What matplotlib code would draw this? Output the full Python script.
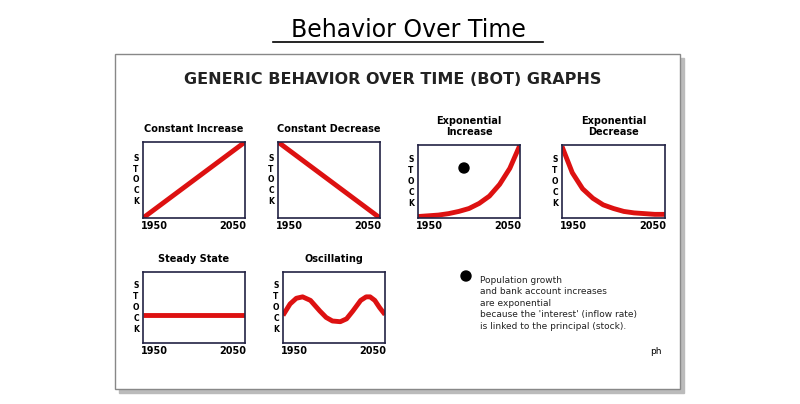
import matplotlib
matplotlib.use("Agg")
import matplotlib.pyplot as plt
from matplotlib.patches import Rectangle, Circle

W, H = 800, 404
years = [1935, 1948, 1961, 1974, 1987, 2000, 2013, 2026, 2039, 2052, 2065]
const_inc = [0.0, 0.1, 0.2, 0.3, 0.4, 0.5, 0.6, 0.7, 0.8, 0.9, 1.0]
const_dec = [1.0, 0.9, 0.8, 0.7, 0.6, 0.5, 0.4, 0.3, 0.2, 0.1, 0.0]
exp_inc = [0.02, 0.03, 0.04, 0.06, 0.09, 0.13, 0.2, 0.3, 0.46, 0.68, 1.0]
exp_dec = [0.98, 0.62, 0.4, 0.27, 0.18, 0.13, 0.09, 0.07, 0.06, 0.05, 0.05]
steady = [0.4] * 11
osc_years = [1935, 1944, 1952, 1960, 1970, 1982, 1990, 1998, 2008, 2016, 2024, 2034, 2041, 2046, 2052, 2058, 2065]
osc = [0.39, 0.55, 0.63, 0.65, 0.6, 0.45, 0.36, 0.31, 0.30, 0.34, 0.45, 0.6, 0.65, 0.65, 0.6, 0.5, 0.4]
tick_years = [1950, 2050]

fig = plt.figure(figsize=(8, 4.04), dpi=100)
bg = fig.add_axes([0, 0, 1, 1])
bg.set_xlim(0, W); bg.set_ylim(H, 0); bg.axis("off")
bg.add_patch(Rectangle((119, 58), 565, 335, color="#bbbbbb"))
bg.add_patch(Rectangle((115, 54), 565, 335, facecolor="white", edgecolor="#888888", lw=1))
bg.text(408, 30, "Behavior Over Time", ha="center", va="center", fontsize=17, family="DejaVu Sans")
bg.plot([273, 543], [42, 42], color="black", lw=1.2)
bg.text(393, 80, "GENERIC BEHAVIOR OVER TIME (BOT) GRAPHS", ha="center", va="center",
        fontsize=11.5, weight="bold", color="#222222")

panels = [
    ("Constant Increase", (143, 142, 245, 218), years, const_inc),
    ("Constant Decrease", (278, 142, 380, 218), years, const_dec),
    ("Exponential\nIncrease", (418, 145, 520, 218), years, exp_inc),
    ("Exponential\nDecrease", (562, 145, 665, 218), years, exp_dec),
    ("Steady State", (143, 272, 245, 343), years, steady),
    ("Oscillating", (283, 272, 385, 343), osc_years, osc),
]
for title, (x0, y0, x1, y1), xs, ys in panels:
    ax = fig.add_axes([x0 / W, 1 - y1 / H, (x1 - x0) / W, (y1 - y0) / H])
    ax.plot(xs, ys, color="#dd1111", lw=3.5, solid_capstyle="butt", solid_joinstyle="round")
    ax.set_xlim(1935, 2065); ax.set_ylim(0, 1)
    ax.set_xticks(tick_years); ax.set_xticklabels([str(t) for t in tick_years], fontsize=7, weight="bold")
    ax.tick_params(length=0, pad=2)
    ax.set_yticks([])
    for s in ax.spines.values():
        s.set_linewidth(1.2); s.set_color("#222244")
    bg.text((x0 + x1) / 2, y0 - 8, title, ha="center", va="bottom", fontsize=7, weight="bold",
            linespacing=1.1)
    bg.text(x0 - 7, (y0 + y1) / 2, "S\nT\nO\nC\nK", ha="center", va="center", fontsize=5.5,
            weight="bold", linespacing=1.25)

top = fig.add_axes([0, 0, 1, 1])
top.set_xlim(0, W); top.set_ylim(H, 0); top.axis("off"); top.patch.set_alpha(0)
top.add_patch(Circle((464, 168), 5, color="black"))
top.add_patch(Circle((466, 276), 5, color="black"))
top.text(480, 276, "Population growth\nand bank account increases\nare exponential\nbecause the 'interest' (inflow rate)\nis linked to the principal (stock).",
        ha="left", va="top", fontsize=6.5, linespacing=1.35, color="#222222")
top.text(650, 352, "ph", fontsize=6.5, ha="left", va="center")
fig.savefig("out.png", dpi=100)
